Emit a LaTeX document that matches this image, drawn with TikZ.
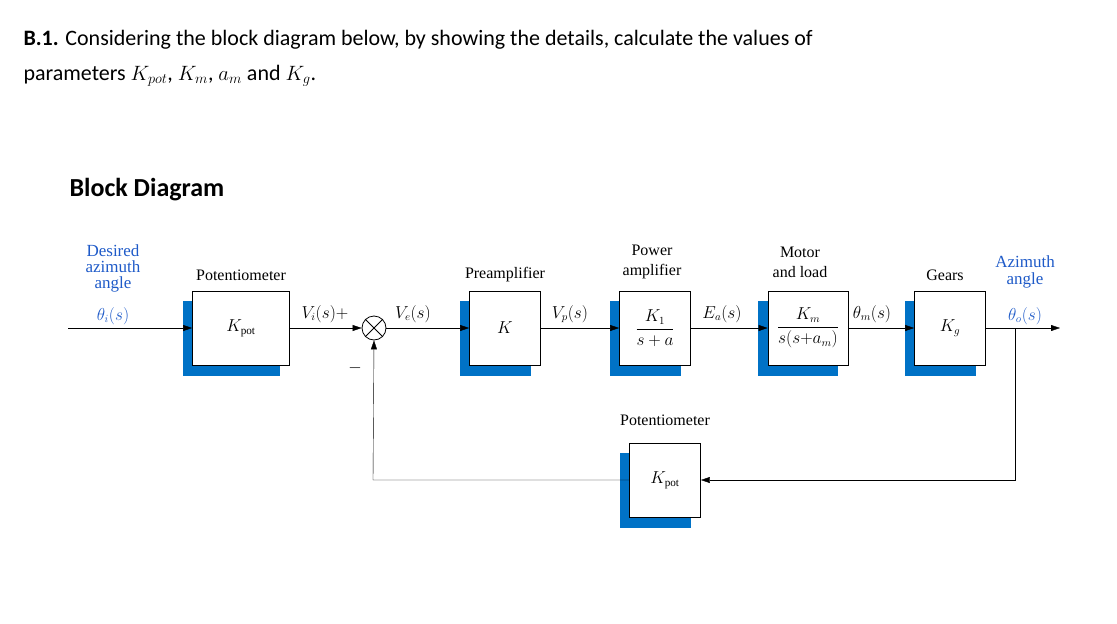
\documentclass[tikz,border=0pt]{standalone}
\usepackage{amsmath}
\usepackage{fontspec}
\setmainfont{Liberation Serif}
\newfontfamily\calfont{Carlito}
\usetikzlibrary{arrows.meta}
\definecolor{bdblue}{RGB}{0,114,198}
\definecolor{lblblue}{RGB}{30,90,200}
\begin{document}
\begin{tikzpicture}[x=1pt,y=-1pt,
  blk/.style={draw,thick,fill=white,minimum height=74pt,font=\fontsize{16}{18}\selectfont},
  lbl/.style={font=\fontsize{16}{18}\selectfont,align=center},
  sig/.style={font=\fontsize{16}{18}\selectfont},
  >={Triangle[length=9pt,width=6pt]}]
\useasboundingbox (0,0) rectangle (1117,624);
\newcommand{\shadowblk}[5]{% name, x, y, w, text
  \fill[bdblue] (#2-#4/2-10,#3-27) rectangle (#2+#4/2-10,#3+48);
  \node[blk,minimum width=#4pt] (#1) at (#2,#3) {#5};}
% heading
\node[anchor=west,font=\calfont\fontsize{22}{26}\selectfont] (t1) at (20,40) {\textbf{B.1.} Considering the block diagram below, by showing the details, calculate the values of};
\node[anchor=west,font=\calfont\fontsize{22}{26}\selectfont] (t2) at (20,76) {parameters $K_{pot}$, $K_m$, $a_m$ and $K_g$.};
\node[anchor=west,font=\calfont\bfseries\fontsize{26}{30}\selectfont] (bd) at (66,190) {Block Diagram};
% blocks
\shadowblk{pot}{241}{328}{97}{$K_{\mathrm{pot}}$}
\shadowblk{pre}{505}{328}{71}{$K$}
\shadowblk{pa}{655}{328}{71}{$\dfrac{K_1}{s+a}$}
\shadowblk{mot}{808}{328}{80}{$\dfrac{K_m}{s(s{+}a_m)}$}
\shadowblk{gear}{950}{328}{71}{$K_g$}
\shadowblk{fb}{665}{480}{71}{$K_{\mathrm{pot}}$}
\node[draw,thick,circle,minimum size=24pt,inner sep=0pt] (sum) at (374,328) {};
\draw[thick] (sum.north west) -- (sum.south east) (sum.north east) -- (sum.south west);
% coordinates
\coordinate (in) at (68,328);
\coordinate (out) at (1060,328);
\coordinate (tap) at (1015,328);
\coordinate (c1) at (1015,480);
\coordinate (c2) at (373,480);
% connectors
\draw[->] (in) -- (pot.west);
\draw[->] (pot.east) -- (sum.west);
\draw[->] (sum.east) -- (pre.west);
\draw[->] (pre.east) -- (pa.west);
\draw[->] (pa.east) -- (mot.west);
\draw[->] (mot.east) -- (gear.west);
\draw[->] (gear.east) -- (out);
\draw[->] (tap) -- (c1) -- (fb.east);
\draw[->] (fb.west) -- (c2) -- (sum.south);
% labels
\node[lbl,text=lblblue,font=\fontsize{17}{19}\selectfont] (din) at (113,268) {Desired\\[-3pt]azimuth\\[-3pt]angle};
\node[sig,text=lblblue] (thi) at (113,316) {$\theta_i(s)$};
\node[lbl,text=lblblue,font=\fontsize{17}{19}\selectfont] (dout) at (1025,272) {Azimuth\\[-2pt]angle};
\node[sig,text=lblblue] (tho) at (1025,316) {$\theta_o(s)$};
\node[lbl] (l1) at (241,275) {Potentiometer};
\node[lbl] (l2) at (505,275) {Preamplifier};
\node[lbl] (l3) at (652,262) {Power\\[2pt]amplifier};
\node[lbl] (l4) at (800,262) {Motor\\[2pt]and load};
\node[lbl] (l5) at (945,275) {Gears};
\node[lbl] (l6) at (665,420) {Potentiometer};
\node[sig] (s1) at (325,314) {$V_i(s)+$};
\node[sig] (s2) at (413,314) {$V_e(s)$};
\node[sig] (s3) at (570,314) {$V_p(s)$};
\node[sig] (s4) at (722,314) {$E_a(s)$};
\node[sig] (s5) at (872,314) {$\theta_m(s)$};
\node[sig] (s6) at (355,368) {$-$};
\end{tikzpicture}
\end{document}
